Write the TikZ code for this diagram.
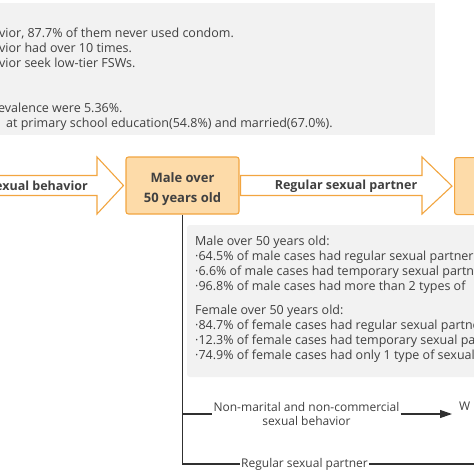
\documentclass[tikz,border=0pt]{standalone}
\usepackage{fontspec}
\setmainfont{Open Sans}
\usetikzlibrary{arrows.meta}
\definecolor{boxgray}{HTML}{F2F2F2}
\definecolor{txt}{HTML}{404040}
\definecolor{orfill}{HTML}{FDDBA9}
\definecolor{orline}{HTML}{F2A540}
\definecolor{linec}{HTML}{303030}
\begin{document}
\begin{tikzpicture}[x=1pt,y=-1pt,
  body/.style={font=\fontsize{12.5}{15}\selectfont, text=txt, inner sep=0pt, anchor=base west},
  obox/.style={draw=orline, fill=orfill, line width=1.1pt, rounded corners=2.5pt},
  barrow/.style={draw=orline, fill=white, line width=1.1pt, line join=miter},
  conn/.style={draw=linec, line width=1.1pt},
  lab/.style={font=\bfseries\fontsize{12.5}{14}\selectfont, text=txt, inner sep=0pt},
  clab/.style={font=\fontsize{12}{14}\selectfont, text=txt, align=center, inner sep=1pt}
]
\clip (0,0) rectangle (474,474);
\fill[white] (0,0) rectangle (474,474);
% top gray box
\fill[boxgray] (-10,3) rectangle (435,135);
\node[body] (t1) at (-1,37) {vior, 87.7\% of them never used condom.};
\node[body] (t2) at (-1,52) {vior had over 10 times.};
\node[body] (t3) at (-1,67) {vior seek low-tier FSWs.};
\node[body] (t4) at (-2,112) {evalence were 5.36\%.};
\node[body] (t5) at (6,127) {at primary school education(54.8\%) and married(67.0\%).};
% male box
\node[obox, minimum width=113pt, minimum height=57pt] (m) at (182.5,185.5) {};
\node[align=center, text=txt, inner sep=0pt,
  font=\bfseries\fontsize{13}{20}\selectfont] (mt) at (182.5,189) {Male over\\50 years old};
% right box
\node[obox, anchor=north west, minimum width=40pt, minimum height=57pt] (r) at (454,157) {};
% block arrows
\draw[barrow] (-10,175.5) -- (97,175.5) -- (97,157) -- ([xshift=-2pt]m.west) -- (97,214) -- (97,195.5) -- (-10,195.5) -- cycle;
\draw[barrow] ([xshift=1pt]m.east |- 0,175.5) -- (422,175.5) -- (422,157) -- ([xshift=-2pt]r.west) -- (422,214) -- (422,195.5) -- ([xshift=1pt]m.east |- 0,195.5) -- cycle;
\node[lab, anchor=east] (l1) at (88,186) {sexual behavior};
\node[lab] (l2) at (346,186) {Regular sexual partner};
% lower gray box
\fill[boxgray, rounded corners=3pt] (187,225) rectangle (490,377);
\node[body] (g1) at (195,245) {Male over 50 years old:};
\node[body] (g2) at (195,260) {·64.5\% of male cases had regular sexual partner};
\node[body] (g3) at (195,275) {·6.6\% of male cases had temporary sexual partner};
\node[body] (g4) at (195,290) {·96.8\% of male cases had more than 2 types of};
\node[body] (g5) at (195,314) {Female over 50 years old:};
\node[body] (g6) at (195,329) {·84.7\% of female cases had regular sexual partner};
\node[body] (g7) at (195,344) {·12.3\% of female cases had temporary sexual partner};
\node[body] (g8) at (195,359) {·74.9\% of female cases had only 1 type of sexual};
% connectors
\node[clab] (nm) at (306.5,414) {Non-marital and non-commercial\\sexual behavior};
\node[clab, anchor=west, inner sep=0pt] (w) at (459,406) {W};
\node[clab] (rp) at (304.5,464) {Regular sexual partner};
\coordinate (c1) at (m.south |- nm);
\coordinate (c2) at (m.south |- rp);
\coordinate (c3) at (480,464);
\coordinate (tip) at (452,414);
\draw[conn] (m.south) -- (c2) -- (rp.west);
\draw[conn] (rp.east) -- (c3);
\draw[conn] (c1) -- (nm.west);
\draw[conn, -{Triangle[length=12pt,width=8pt]}] (nm.east) -- (tip);
\end{tikzpicture}
\end{document}
